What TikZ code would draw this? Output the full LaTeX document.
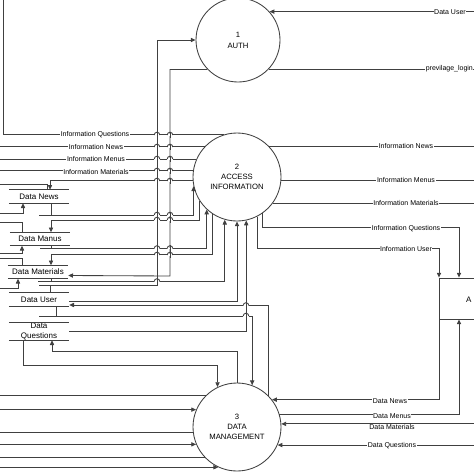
\documentclass[tikz,border=0pt]{standalone}
\usepackage{fontspec}
\setmainfont{Liberation Sans}
\usetikzlibrary{arrows.meta}
\begin{document}
\begin{tikzpicture}[x=1pt,y=-1pt,
  line/.style={draw=black!75, line width=0.85pt},
  arr/.style={line, -{Triangle[length=4.8pt,width=4.2pt]}},
  proc/.style={circle, draw=black!75, line width=0.85pt, minimum size=88pt, inner sep=0pt, align=center, font=\fontsize{7.7}{10}\selectfont},
  store/.style={minimum width=60pt, minimum height=13pt, inner sep=0pt, font=\fontsize{8}{10}\selectfont, align=center},
  lbl/.style={fill=white, inner sep=0.6pt, font=\fontsize{7}{8}\selectfont},
]
\useasboundingbox (0,0) rectangle (474,474);
\clip (0,0) rectangle (474,474);
\fill[white] (0,0) rectangle (474,474);
\coordinate (L) at (0,0);
\coordinate (R) at (474,0);

% processes
\node[proc, minimum size=84pt, font=\fontsize{7.7}{11}\selectfont] (C1) at (238,40) {1\\AUTH};
\node[proc] (C2) at (237,177) {2\\ACCESS\\INFORMATION};
\node[proc] (C3) at (237,427) {3\\DATA\\MANAGEMENT};

% right entity
\node[draw=black!75, line width=0.85pt, minimum width=80pt, minimum height=41pt, inner sep=0pt, anchor=west] (AD) at (439,298.5) {};
\node[font=\fontsize{8}{10}\selectfont, anchor=west, inner sep=0pt] (ADt) at (466,300) {A};

% stores
\node[store] (DN) at (39,196.5) {Data News};
\node[store] (DM) at (40,239) {Data Manus};
\node[store] (DMa) at (38,272) {Data Materials};
\node[store] (DU) at (39,299.5) {Data User};
\node[store] (DQ) at (39,331.5) {Data\\Questions};
\foreach \s in {DN,DM,DMa,DU,DQ}{
  \draw[line] (\s.north west) -- (\s.north east) (\s.south west) -- (\s.south east);
}

% AUTH
\draw[arr] (C1.42 -| R) -- (C1.42);
\draw[line] (C1.316) -- (C1.316 -| R);
\draw[arr] ([xshift=11pt]DU.north) |- ([yshift=7pt]DU.north) -| (157,40) coordinate (j1) -- (C1.180);
\draw[arr] (C1.224) -| (170,276) coordinate (j2) -- ([yshift=-3.5pt]DMa.east);

% ACCESS INFORMATION left
\draw[line] (C2.107) -| (3,0) coordinate (e1);
\draw[line] (C2.137) -- (C2.137 -| L);
\draw[line] (C2.156) -- (C2.156 -| L);
\draw[line] (C2.172) -- (C2.172 -| L);

% Data News
\draw[arr] (C2.185) -| ([xshift=11pt]DN.north);
\draw[line] (0,184) coordinate (e2) -| ([xshift=8pt]DN.north);
\draw[arr] (0,213) coordinate (e3) -| ([xshift=-16pt]DN.south);
\draw[arr] ([xshift=12pt]DN.south) |- ([yshift=-12pt]DN.south) -| (C2.192);

% Data Manus
\draw[arr] (C2.213) |- ([xshift=11pt,yshift=12pt]DM.north) -- ([xshift=11pt]DM.north);
\draw[line] (0,222) coordinate (e4) -| ([xshift=-18pt]DM.north);
\draw[arr] (0,253) coordinate (e5) -| ([xshift=-18pt]DM.south);
\draw[arr] ([xshift=11pt]DM.south) |- ([yshift=-2.5pt]DM.south) -| (C2.227);

% Data Materials
\draw[arr] (C2.237) |- ([xshift=13pt,yshift=10.5pt]DMa.north) -- ([xshift=13pt]DMa.north);
\draw[line] (0,258) coordinate (e6) -| ([xshift=-16pt]DMa.north);
\draw[arr] (0,288) coordinate (e7) -| ([xshift=-20pt]DMa.south);
\draw[arr] ([xshift=13pt]DMa.south) |- ([yshift=-3pt]DMa.south) -| (C2.254);

% Data User
\draw[arr] ([yshift=-2pt]DU.east) -| (C2.270);
\draw[arr] (C3.45) |- ([yshift=-5.5pt]DU.east);
\draw[arr] ([xshift=17pt]DU.south) |- ([yshift=-10pt]DU.south) -| (C3.70);

% Data Questions
\draw[arr] (DQ.east) -| (C2.282);
\draw[arr] (C3.90) |- ([xshift=13pt,yshift=-11pt]DQ.south) -- ([xshift=13pt]DQ.south);
\draw[arr] ([xshift=-16pt]DQ.south) |- ([yshift=-25pt]DQ.south) -| (C3.116);

% line jumps
\foreach \jx/\jy in {157/135,170/135,157/147,170/147,157/159,170/159,157/171,170/171,
  157/181,170/181,157/215,170/215,157/220,170/220,157/248.5,170/248.5,157/255,170/255,
  157/281.5,246/305.5,246/316}{
  \fill[white] (\jx-2.8,\jy-0.9) rectangle (\jx+2.8,\jy+0.9);
  \draw[line] (\jx,\jy-3.4) -- (\jx,\jy+3.4);
  \draw[line] (\jx-2.8,\jy) arc (180:360:2.8);
}

% left labels
\node[lbl] (l1) at (95,135) {Information Questions};
\node[lbl] (l2) at (96,147) {Information News};
\node[lbl] (l3) at (96,159) {Information Menus};
\node[lbl] (l4) at (96,172) {Information Materials};

% ACCESS INFORMATION right
\draw[line] (C2.43) -- (C2.43 -| R);
\draw[line] (C2.356) -- (C2.356 -| R);
\draw[line] (C2.324) -- (C2.324 -| R);
\draw[arr] (C2.305) |- ([xshift=20pt,yshift=50pt]AD.north west) -- ([xshift=20pt]AD.north west);
\draw[arr] (C2.297) |- ([yshift=29pt]AD.north west) -- (AD.north west);

% DATA MANAGEMENT right
\draw[arr] (AD.south west) |- (C3.38);
\draw[arr] (C3.17) -| ([xshift=20pt]AD.south west);
\draw[arr] (C3.4 -| R) -- (C3.4);
\draw[arr] (C3.336 -| R) -- (C3.336);

% DATA MANAGEMENT left
\draw[line] (C3.135) -- (C3.135 -| L);
\draw[arr] (C3.157 -| L) -- (C3.157);
\draw[line] (C3.187) -- (C3.187 -| L);
\draw[arr] (C3.203 -| L) -- (C3.203);
\draw[line] (C3.223) -- (C3.223 -| L);
\draw[arr] (C3.245 -| L) -- (C3.245);

% right labels
\node[lbl] (r1) at (450,12) {Data User};
\node[lbl, anchor=west] (r2) at (425,69) {previlage\_login};
\node[lbl] (r3) at (406,146) {Information News};
\node[lbl] (r4) at (406,180) {Information Menus};
\node[lbl] (r5) at (406,203) {Information Materials};
\node[lbl] (r6) at (406,229) {Information Questions};
\node[lbl] (r7) at (406,249) {Information User};
\node[lbl] (r8) at (390,401) {Data News};
\node[lbl] (r9) at (392,416) {Data Menus};
\node[lbl] (r10) at (392,427) {Data Materials};
\node[lbl] (r11) at (392,446) {Data Questions};
\end{tikzpicture}
\end{document}
